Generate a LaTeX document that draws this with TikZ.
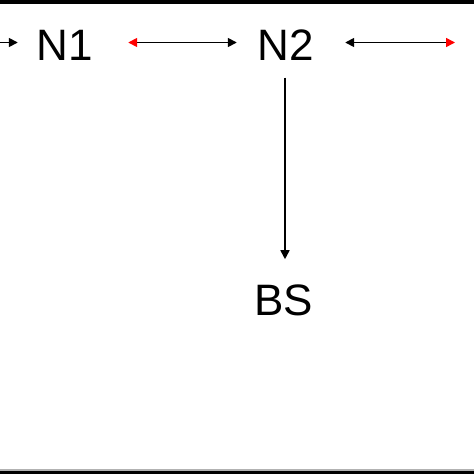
\documentclass[tikz,border=0pt]{standalone}
\usepackage{fontspec}
\setmainfont{Liberation Sans}
\usetikzlibrary{arrows.meta}
\begin{document}
\begin{tikzpicture}[x=1pt,y=-1pt,
  lbl/.style={inner sep=0pt, font=\fontsize{44}{48}\selectfont},
  conn/.style={line width=1.6pt, black},
]
\useasboundingbox (0,0) rectangle (474,474);
\fill[white] (0,0) rectangle (474,474);
\fill[black] (0,0) rectangle (474,4);
\fill[gray!60] (0,469) rectangle (474,471);
\fill[black] (0,471) rectangle (474,474);

\node[lbl] (N1) at (65,45.5) {N1};
\node[lbl] (N2) at (286,45.5) {N2};
\node[lbl] (BS) at (283.5,300) {BS};
\coordinate (L) at (0,42.5);
\coordinate (R) at (455,42.5);

\draw[conn, -{Triangle[length=9pt,width=9pt]}, shorten >=18.9pt] (L) -- ([yshift=3pt]N1.west);
\draw[conn, {Triangle[length=9pt,width=9pt,red]}-{Triangle[length=9pt,width=9pt]}, shorten <=34.9pt, shorten >=20.9pt]
  ([yshift=3pt]N1.east) -- ([yshift=3pt]N2.west);
\draw[conn, {Triangle[length=9pt,width=9pt]}-{Triangle[length=9pt,width=9pt,red]}, shorten <=30.9pt]
  ([yshift=3pt]N2.east) -- (R);
\draw[conn, -{Triangle[length=9pt,width=9pt]}, shorten <=16.5pt, shorten >=25pt]
  ([xshift=-1pt]N2.south) -- ([xshift=-1pt]N2.south |- BS.north);
\end{tikzpicture}
\end{document}
